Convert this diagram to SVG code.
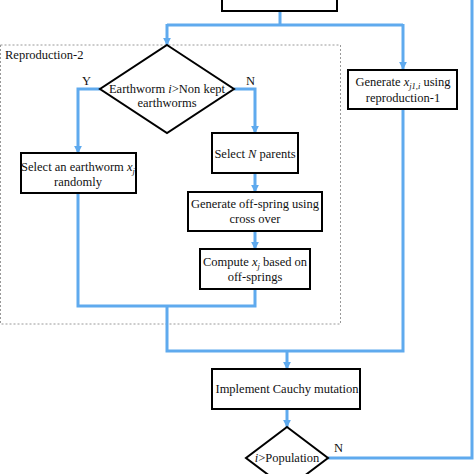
<svg xmlns="http://www.w3.org/2000/svg" width="474" height="474" viewBox="0 0 474 474">
<defs>
<marker id="ah" viewBox="0 0 10 10" refX="9" refY="5" markerWidth="8" markerHeight="8" markerUnits="userSpaceOnUse" orient="auto">
<path d="M0,0 L10,5 L0,10 z" fill="#5FAAEE"/>
</marker>
<style>
.box{fill:#fff;stroke:#000;stroke-width:2}
.c{fill:none;stroke:#5FAAEE;stroke-width:3}
.a{marker-end:url(#ah)}
text{font-family:"Liberation Serif","Times New Roman",serif;font-size:12.5px;fill:#111}
.m{text-anchor:middle}
.i{font-style:italic}
.s{font-size:8.5px}
</style>
</defs>
<rect x="0.5" y="45" width="340" height="279" fill="none" stroke="#999" stroke-width="1" stroke-dasharray="2,2"/>
<text x="5" y="59">Reproduction-2</text>
<g id="connectors">
<path class="c" d="M280,12 V25"/>
<path class="c" d="M167,25 H403"/>
<path class="c a" d="M167,24 V45"/>
<path class="c a" d="M403,24 V69"/>
<path class="c a" d="M100,89 H78 V153"/>
<path class="c a" d="M234,89 H255 V133"/>
<path class="c a" d="M255,173 V192"/>
<path class="c a" d="M255,231 V249"/>
<path class="c" d="M78,193 V306 H255 V289"/>
<path class="c" d="M167,306 V351 H403 V109"/>
<path class="c a" d="M287,350 V369"/>
<path class="c a" d="M287,409 V427"/>
<path class="c" d="M328,458 H472 V0"/>
</g>
<g id="start"><rect class="box" x="222" y="-10" width="115" height="21"/></g>
<g id="d1">
<polygon class="box" points="167,45 234,89 167,133 100,89"/>
<text class="m" x="167" y="93">Earthworm <tspan class="i">i</tspan>&gt;Non kept</text>
<text class="m" x="167" y="107">earthworms</text>
</g>
<text x="82" y="85">Y</text>
<text x="246" y="85">N</text>
<g id="n1">
<rect class="box" x="21" y="153" width="115" height="40"/>
<text class="m" x="78" y="171">Select an earthworm <tspan class="i">x</tspan><tspan class="i s" dy="3">j</tspan></text>
<text class="m" x="78" y="186">randomly</text>
</g>
<g id="n2">
<rect class="box" x="212" y="133" width="86" height="40"/>
<text class="m" x="255" y="158">Select <tspan class="i">N</tspan> parents</text>
</g>
<g id="n3">
<rect class="box" x="188" y="192" width="134" height="39"/>
<text class="m" x="255" y="208">Generate off-spring using</text>
<text class="m" x="255" y="223">cross over</text>
</g>
<g id="n4">
<rect class="box" x="200" y="249" width="110" height="40"/>
<text class="m" x="255" y="266">Compute <tspan class="i">x</tspan><tspan class="i s" dy="3">j</tspan><tspan dy="-3"> based on</tspan></text>
<text class="m" x="255" y="281">off-springs</text>
</g>
<g id="n5">
<rect class="box" x="348" y="70" width="109" height="39"/>
<text class="m" x="403" y="86">Generate <tspan class="i">x</tspan><tspan class="i s" dy="3">j1,i</tspan><tspan dy="-3"> using</tspan></text>
<text class="m" x="403" y="102">reproduction-1</text>
</g>
<g id="n6">
<rect class="box" x="212" y="369" width="148" height="40"/>
<text class="m" x="287" y="393">Implement Cauchy mutation</text>
</g>
<g id="d2">
<polygon class="box" points="287,427 328,458 287,489 246,458"/>
<text class="m" x="287" y="462"><tspan class="i">i</tspan>&gt;Population</text>
</g>
<text x="334" y="452">N</text>
</svg>
